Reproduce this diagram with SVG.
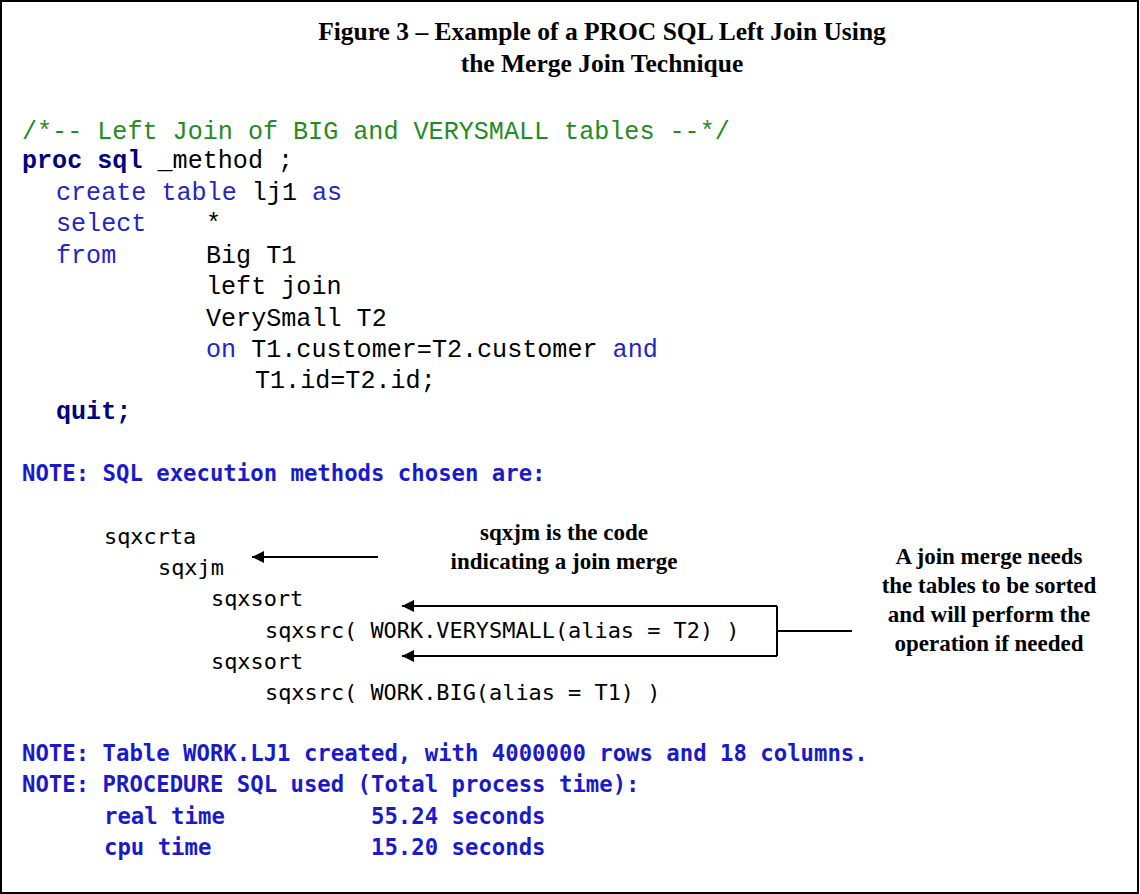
<svg xmlns="http://www.w3.org/2000/svg" width="1140" height="894" viewBox="0 0 1140 894">
<style>
.t{font-family:"Liberation Serif",serif;font-weight:bold;font-size:25.5px;fill:#000;text-anchor:middle}
.c{font-family:"Liberation Serif",serif;font-weight:bold;font-size:23px;fill:#000;text-anchor:middle}
.m{font-family:"Liberation Mono","Courier New",monospace;font-size:25.1px;fill:#000}
.g{fill:#228b22}.k{fill:#2424c8}.b{fill:#000080;font-weight:bold}
.s{font-family:"DejaVu Sans Mono",monospace;font-size:21.9px;fill:#000}
.n{font-family:"DejaVu Sans Mono",monospace;font-size:22.3px;font-weight:bold;fill:#1a1acc}
.ln{stroke:#000;stroke-width:2;fill:none}
</style>
<defs>
<marker id="h" viewBox="0 0 10 10" markerWidth="16" markerHeight="12" refX="10" refY="5" orient="auto" markerUnits="userSpaceOnUse"><path d="M0,0L10,5L0,10z" fill="#000"/></marker></defs>
<rect x="1" y="1" width="1137" height="892" fill="#fff" stroke="#000" stroke-width="2"/>
<g id="title"><text class="t" x="602" y="40">Figure 3 – Example of a PROC SQL Left Join Using</text><text class="t" x="602" y="72">the Merge Join Technique</text></g>
<g id="code" class="m">
<text x="22" y="139" class="g">/*-- Left Join of BIG and VERYSMALL tables --*/</text>
<text x="22" y="168"><tspan class="b">proc sql</tspan> _method ;</text>
<text x="56" y="200"><tspan class="k">create table</tspan> lj1 <tspan class="k">as</tspan></text>
<text x="56" y="231"><tspan class="k">select</tspan><tspan x="206">*</tspan></text>
<text x="56" y="263"><tspan class="k">from</tspan><tspan x="206">Big T1</tspan></text>
<text x="206" y="294">left join</text>
<text x="206" y="326">VerySmall T2</text>
<text x="206" y="357"><tspan class="k">on</tspan> T1.customer=T2.customer <tspan class="k">and</tspan></text>
<text x="255" y="388">T1.id=T2.id;</text>
<text x="56" y="419" class="b">quit;</text>
</g>
<g id="log">
<text class="n" x="22" y="481">NOTE: SQL execution methods chosen are:</text>
<text class="s" x="104" y="544">sqxcrta</text>
<text class="s" x="158" y="575">sqxjm</text>
<text class="s" x="211" y="606">sqxsort</text>
<text class="s" x="265" y="638" xml:space="preserve">sqxsrc( WORK.VERYSMALL(alias = T2) )</text>
<text class="s" x="211" y="669">sqxsort</text>
<text class="s" x="265" y="700" xml:space="preserve">sqxsrc( WORK.BIG(alias = T1) )</text>
<text class="n" x="22" y="761">NOTE: Table WORK.LJ1 created, with 4000000 rows and 18 columns.</text>
<text class="n" x="22" y="792">NOTE: PROCEDURE SQL used (Total process time):</text>
<text class="n" x="104" y="824">real time<tspan x="371">55.24 seconds</tspan></text>
<text class="n" x="104" y="855">cpu time<tspan x="371">15.20 seconds</tspan></text>
</g>
<g id="callout1"><text class="c" x="564" y="540">sqxjm is the code</text><text class="c" x="564" y="569">indicating a join merge</text></g>
<g id="callout2"><text class="c" x="989" y="564">A join merge needs</text><text class="c" x="989" y="593">the tables to be sorted</text><text class="c" x="989" y="622">and will perform the</text><text class="c" x="989" y="651">operation if needed</text></g>
<g id="connectors">
<line class="ln" x1="378" y1="557" x2="252" y2="557" marker-end="url(#h)"/>
<polyline class="ln" points="777,606 777,656"/>
<line class="ln" x1="777" y1="606" x2="402" y2="606" marker-end="url(#h)"/>
<line class="ln" x1="777" y1="656" x2="402" y2="656" marker-end="url(#h)"/>
<line class="ln" x1="777" y1="631" x2="852" y2="631"/>
</g>
</svg>
